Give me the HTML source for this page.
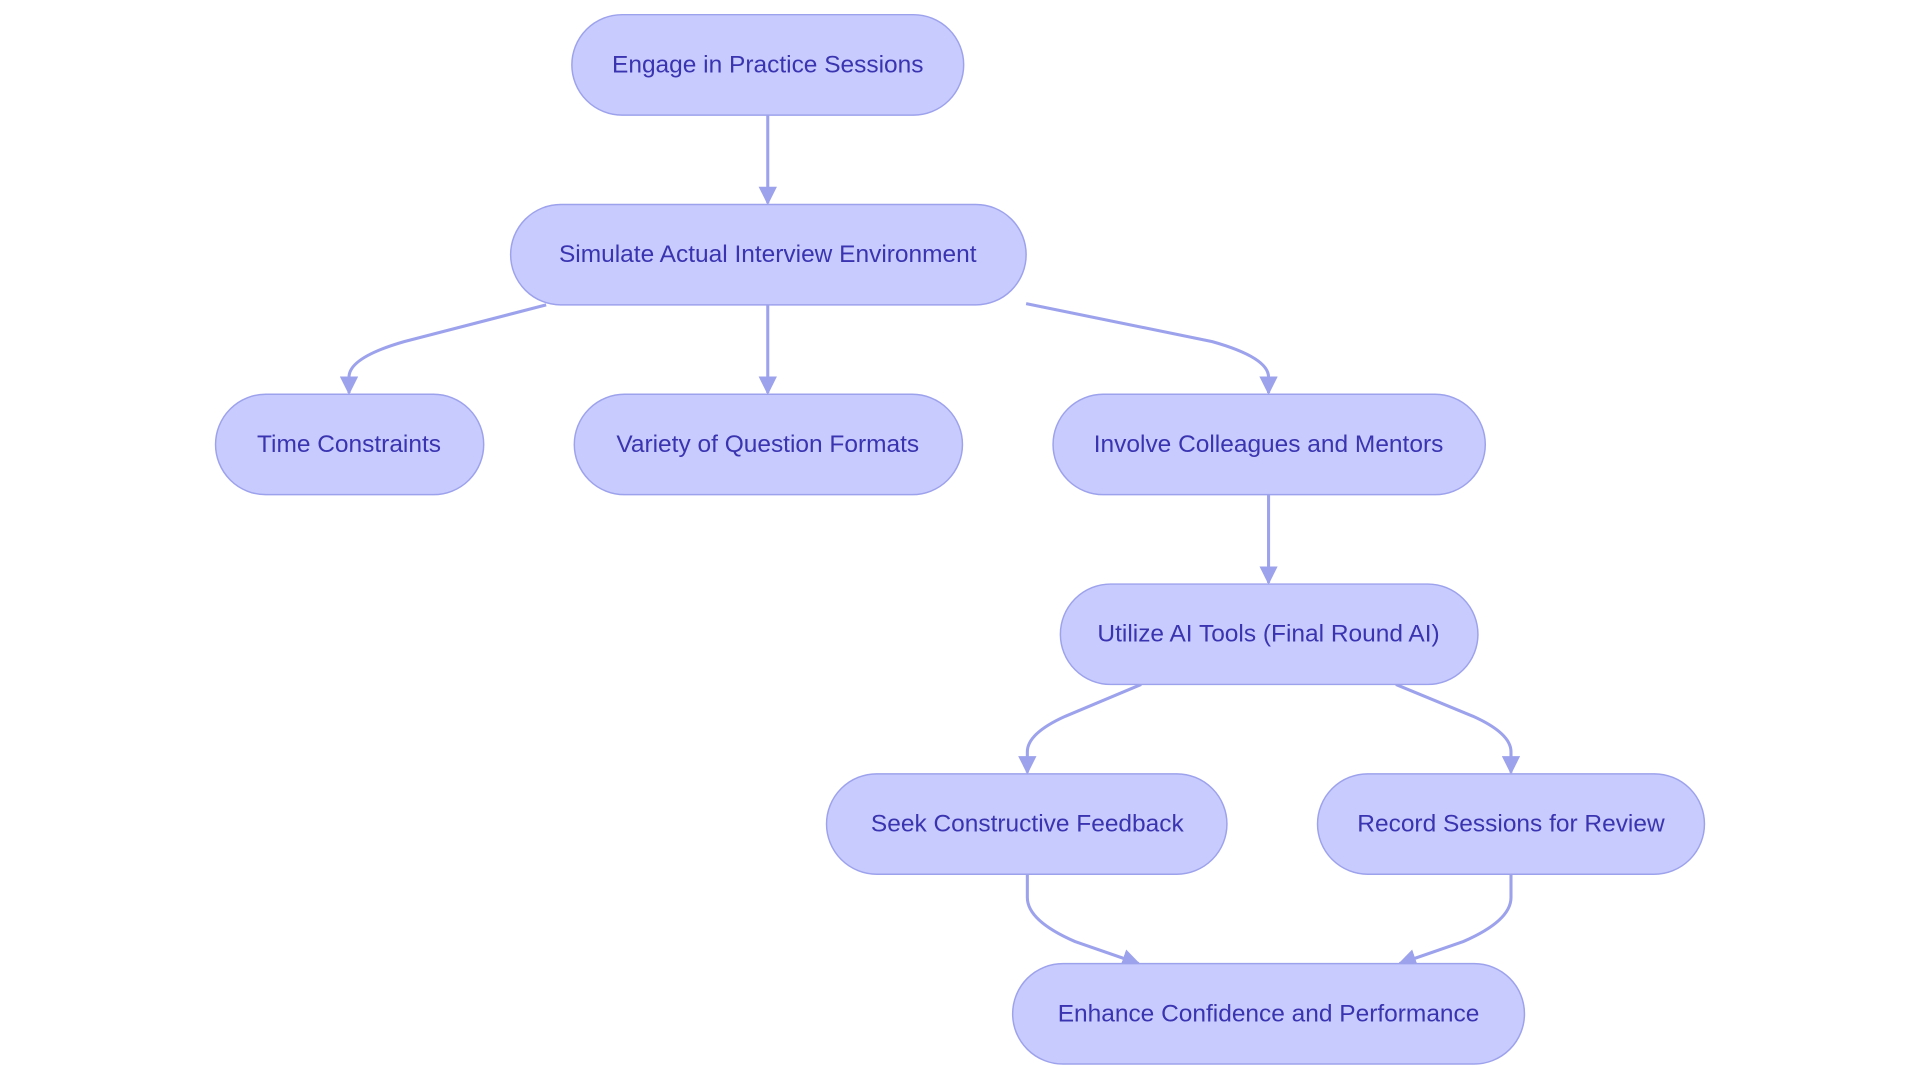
<!DOCTYPE html>
<html><head><meta charset="utf-8"><style>
html,body{margin:0;padding:0;background:#fff;}
svg{display:block;}
text{font-family:"Liberation Sans",sans-serif;font-size:20px;fill:#3a34b0;text-anchor:middle;dominant-baseline:central;}
.n{fill:#c8cbfe;stroke:#9da2ec;stroke-width:1.2;}
.e{fill:none;stroke:#9da2ec;stroke-width:2.5;}
</style></head><body>
<svg width="1920" height="1083" viewBox="0 0 1568 884.5" xmlns="http://www.w3.org/2000/svg">
<defs><marker id="a" viewBox="0 0 10 10" refX="9" refY="5" markerWidth="6" markerHeight="6" markerUnits="strokeWidth" orient="auto"><path d="M0,0 L10,5 L0,10 z" fill="#9da2ec"/></marker></defs>
<path class="e" marker-end="url(#a)" d="M627,94 L627,166"/>
<path class="e" marker-end="url(#a)" d="M446,249 L330,279 Q285,292 285,308 L285,321"/>
<path class="e" marker-end="url(#a)" d="M627,249 L627,321"/>
<path class="e" marker-end="url(#a)" d="M838,248 L990,279 Q1036,292 1036,308 L1036,321"/>
<path class="e" marker-end="url(#a)" d="M1036,404 L1036,476"/>
<path class="e" marker-end="url(#a)" d="M932,559 L870,585 Q839,599 839,614 L839,631"/>
<path class="e" marker-end="url(#a)" d="M1140,559 L1203,585 Q1234,599 1234,614 L1234,631"/>
<path class="e" marker-end="url(#a)" d="M839,714 L839,733 Q839,752 878,769 L930,787"/>
<path class="e" marker-end="url(#a)" d="M1234,714 L1234,733 Q1234,752 1195,769 L1143,787"/>
<rect class="n" x="467" y="12" width="320" height="82" rx="41"/><text x="627" y="53">Engage in Practice Sessions</text>
<rect class="n" x="417" y="167" width="421" height="82" rx="41"/><text x="627" y="208">Simulate Actual Interview Environment</text>
<rect class="n" x="176" y="322" width="219" height="82" rx="41"/><text x="285" y="363">Time Constraints</text>
<rect class="n" x="469" y="322" width="317" height="82" rx="41"/><text x="627" y="363">Variety of Question Formats</text>
<rect class="n" x="860" y="322" width="353" height="82" rx="41"/><text x="1036" y="363">Involve Colleagues and Mentors</text>
<rect class="n" x="866" y="477" width="341" height="82" rx="41"/><text x="1036" y="518">Utilize AI Tools (Final Round AI)</text>
<rect class="n" x="675" y="632" width="327" height="82" rx="41"/><text x="839" y="673">Seek Constructive Feedback</text>
<rect class="n" x="1076" y="632" width="316" height="82" rx="41"/><text x="1234" y="673">Record Sessions for Review</text>
<rect class="n" x="827" y="787" width="418" height="82" rx="41"/><text x="1036" y="828">Enhance Confidence and Performance</text>
</svg>
</body></html>
